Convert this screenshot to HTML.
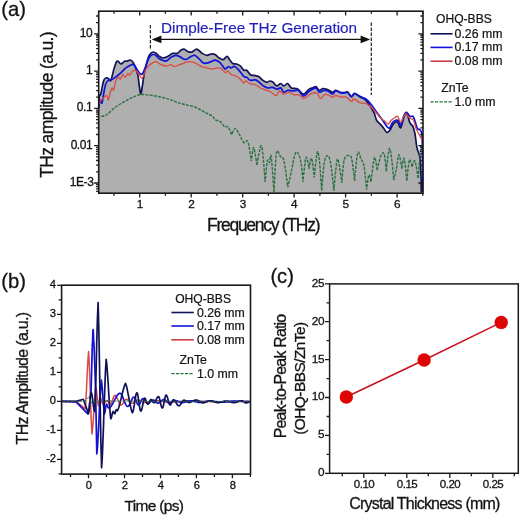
<!DOCTYPE html>
<html lang="en">
<head>
<meta charset="utf-8">
<title>THz generation in OHQ-BBS crystals</title>
<style>
html,body{margin:0;padding:0;background:#fff;}
body{width:520px;height:515px;overflow:hidden;}
svg{display:block;}
svg text{font-family:"Liberation Sans", Arial, sans-serif;fill:#141414;stroke:#141414;stroke-width:.3px;}
svg text.lg{stroke-width:.22px;}
</style>
</head>
<body>
<svg width="520" height="515" viewBox="0 0 520 515">
<rect width="520" height="515" fill="#fff"/>
<g id="panel-a">
<path d="M98.9 103C99 101.8 99.1 97 99.4 95.6C99.7 94.1 100 96.8 100.7 94.3C101.4 91.8 102.8 83.1 103.8 80.4C104.8 77.7 105.7 78.2 106.4 77.9C107.2 77.6 107.6 78.1 108.3 78.5C109 78.9 109.9 82 110.8 80.4C111.7 78.8 113 72.1 113.9 69C114.9 65.9 115.8 63 116.5 61.8C117.2 60.5 117.7 61.1 118.4 61.5C119.1 61.9 119.9 64 120.9 64C122 64 123.7 61.7 124.7 61.2C125.8 60.7 126.2 61.4 127.2 61.2C128.2 61 129.5 59.9 130.4 60C131.3 60.1 132.1 60.9 132.9 62.1C133.7 63.3 134.6 64.9 135.4 67.1C136.2 69.3 137.2 72.1 137.9 75.4C138.6 78.7 138.9 83.7 139.4 86.7C139.9 89.8 140.3 93.5 140.7 93.7C141.1 93.9 141.4 91.3 142 88C142.6 84.7 143.4 78.3 144.2 74.1C145 69.9 146 65.8 146.8 62.7C147.7 59.6 148.2 57 149.3 55.2C150.4 53.4 151.8 52.2 153.1 52C154.4 51.8 155.9 53.2 156.9 53.9C157.9 54.5 157.8 55.2 158.8 55.9C159.9 56.6 161.7 57.9 163.2 58C164.7 58.1 166 57.3 167.6 56.5C169.2 55.7 171.1 53.9 172.7 53.4C174.3 52.9 175.7 53.9 177.1 53.4C178.5 52.9 179.8 50.9 180.9 50.2C182.1 49.5 182.8 49 184 49.2C185.2 49.4 186.5 51 187.8 51.5C189.1 52 190.2 52.5 191.6 52.1C193 51.7 194.8 49.5 196 49.2C197.2 48.9 197.5 49.5 198.6 50.2C199.7 50.9 200.9 52.5 202.3 53.4C203.7 54.2 205.3 55.2 206.8 55.3C208.3 55.4 209.8 54.1 211.2 54C212.6 53.9 213.7 54 215 54.6C216.3 55.2 217.4 56.9 218.8 57.7C220.2 58.5 221.8 59.8 223.2 59.6C224.6 59.4 225.9 56.4 227 56.4C228.1 56.4 228.6 58.4 229.5 59.6C230.4 60.8 231.5 62.7 232.7 63.4C233.9 64.1 235.2 63.6 236.5 64C237.8 64.4 239.1 64.9 240.3 65.9C241.6 67 242.9 69.6 244 70.3C245.1 71 245.5 69.6 246.6 70.3C247.7 71 249.2 73.8 250.4 74.7C251.7 75.6 252.7 75.1 254.1 75.4C255.5 75.7 257.1 75.8 258.6 76.6C260.1 77.4 261.6 79.5 263 80.4C264.4 81.4 265.7 82.2 266.8 82.3C267.9 82.4 268.8 81 269.9 81C270.9 81 271.9 81.5 273.1 82.3C274.3 83.1 275.6 85.8 276.9 86C278.2 86.2 279.5 83.5 280.7 83.5C281.9 83.5 282.6 86 283.8 86C285 86 286.3 83.2 287.6 83.5C288.9 83.8 289.7 87 291.4 87.9C293.1 88.8 295.7 88 297.7 89.1C299.7 90.1 301.5 94.2 303.4 94.2C305.3 94.2 307.5 90.1 309.1 89.1C310.7 88 311.8 88.3 312.9 87.9C314 87.5 314.9 86.2 316 86.6C317.1 87 318 90.1 319.2 90.4C320.4 90.7 321.5 88.6 323 88.5C324.5 88.4 326.4 89.2 328 89.8C329.6 90.4 331.2 92.2 332.5 92.3C333.8 92.4 334.4 90.4 335.6 90.4C336.9 90.4 338.6 91.8 340 92.2C341.4 92.6 342.5 92.7 343.8 92.7C345.1 92.7 346.3 91.5 347.6 92.1C348.9 92.7 350.2 96.3 351.4 96.5C352.6 96.7 353.1 93.3 354.6 93.4C356.1 93.5 358.4 95.9 360.3 97.1C362.2 98.2 364.2 98.7 365.9 100.3C367.6 101.9 369 104.5 370.4 106.6C371.8 108.7 373.1 110.6 374.1 112.9C375.2 115.2 375.6 118.6 376.7 120.5C377.8 122.4 379.3 123 380.5 124.3C381.7 125.6 382.8 127.2 383.9 128.5C384.9 129.8 385.8 132.1 386.8 132.4C387.8 132.7 388.7 131.6 389.7 130.4C390.7 129.2 391.7 126.5 392.6 125.1C393.5 123.7 394.1 122.6 395 122.2C395.9 121.8 397.1 121.7 398 122.7C398.9 123.7 399.6 128.2 400.4 128C401.2 127.8 402.1 123.5 402.8 121.2C403.5 118.9 404.2 115.8 404.8 114.4C405.4 113 405.6 112.5 406.2 113C406.8 113.5 407.5 115.6 408.2 117.3C408.9 119 409.3 121.7 410.1 123.2C410.9 124.8 412.2 124.8 413 126.6C413.8 128.4 414.4 130.8 415 133.8C415.6 136.8 416 141.8 416.4 144.5C416.8 147.2 417 147.8 417.6 150C418.2 152.2 419.4 153.7 419.9 157.4C420.4 161.1 420.5 166.2 420.8 172C421.1 177.8 421.5 189.1 421.6 192.5L422 193.2 L98.7 193.2 Z" fill="#afafaf" stroke="none"/>
<path d="M98.9 103C99 101.8 99.1 97 99.4 95.6C99.7 94.1 100 96.8 100.7 94.3C101.4 91.8 102.8 83.1 103.8 80.4C104.8 77.7 105.7 78.2 106.4 77.9C107.2 77.6 107.6 78.1 108.3 78.5C109 78.9 109.9 82 110.8 80.4C111.7 78.8 113 72.1 113.9 69C114.9 65.9 115.8 63 116.5 61.8C117.2 60.5 117.7 61.1 118.4 61.5C119.1 61.9 119.9 64 120.9 64C122 64 123.7 61.7 124.7 61.2C125.8 60.7 126.2 61.4 127.2 61.2C128.2 61 129.5 59.9 130.4 60C131.3 60.1 132.1 60.9 132.9 62.1C133.7 63.3 134.6 64.9 135.4 67.1C136.2 69.3 137.2 72.1 137.9 75.4C138.6 78.7 138.9 83.7 139.4 86.7C139.9 89.8 140.3 93.5 140.7 93.7C141.1 93.9 141.4 91.3 142 88C142.6 84.7 143.4 78.3 144.2 74.1C145 69.9 146 65.8 146.8 62.7C147.7 59.6 148.2 57 149.3 55.2C150.4 53.4 151.8 52.2 153.1 52C154.4 51.8 155.9 53.2 156.9 53.9C157.9 54.5 157.8 55.2 158.8 55.9C159.9 56.6 161.7 57.9 163.2 58C164.7 58.1 166 57.3 167.6 56.5C169.2 55.7 171.1 53.9 172.7 53.4C174.3 52.9 175.7 53.9 177.1 53.4C178.5 52.9 179.8 50.9 180.9 50.2C182.1 49.5 182.8 49 184 49.2C185.2 49.4 186.5 51 187.8 51.5C189.1 52 190.2 52.5 191.6 52.1C193 51.7 194.8 49.5 196 49.2C197.2 48.9 197.5 49.5 198.6 50.2C199.7 50.9 200.9 52.5 202.3 53.4C203.7 54.2 205.3 55.2 206.8 55.3C208.3 55.4 209.8 54.1 211.2 54C212.6 53.9 213.7 54 215 54.6C216.3 55.2 217.4 56.9 218.8 57.7C220.2 58.5 221.8 59.8 223.2 59.6C224.6 59.4 225.9 56.4 227 56.4C228.1 56.4 228.6 58.4 229.5 59.6C230.4 60.8 231.5 62.7 232.7 63.4C233.9 64.1 235.2 63.6 236.5 64C237.8 64.4 239.1 64.9 240.3 65.9C241.6 67 242.9 69.6 244 70.3C245.1 71 245.5 69.6 246.6 70.3C247.7 71 249.2 73.8 250.4 74.7C251.7 75.6 252.7 75.1 254.1 75.4C255.5 75.7 257.1 75.8 258.6 76.6C260.1 77.4 261.6 79.5 263 80.4C264.4 81.4 265.7 82.2 266.8 82.3C267.9 82.4 268.8 81 269.9 81C270.9 81 271.9 81.5 273.1 82.3C274.3 83.1 275.6 85.8 276.9 86C278.2 86.2 279.5 83.5 280.7 83.5C281.9 83.5 282.6 86 283.8 86C285 86 286.3 83.2 287.6 83.5C288.9 83.8 289.7 87 291.4 87.9C293.1 88.8 295.7 88 297.7 89.1C299.7 90.1 301.5 94.2 303.4 94.2C305.3 94.2 307.5 90.1 309.1 89.1C310.7 88 311.8 88.3 312.9 87.9C314 87.5 314.9 86.2 316 86.6C317.1 87 318 90.1 319.2 90.4C320.4 90.7 321.5 88.6 323 88.5C324.5 88.4 326.4 89.2 328 89.8C329.6 90.4 331.2 92.2 332.5 92.3C333.8 92.4 334.4 90.4 335.6 90.4C336.9 90.4 338.6 91.8 340 92.2C341.4 92.6 342.5 92.7 343.8 92.7C345.1 92.7 346.3 91.5 347.6 92.1C348.9 92.7 350.2 96.3 351.4 96.5C352.6 96.7 353.1 93.3 354.6 93.4C356.1 93.5 358.4 95.9 360.3 97.1C362.2 98.2 364.2 98.7 365.9 100.3C367.6 101.9 369 104.5 370.4 106.6C371.8 108.7 373.1 110.6 374.1 112.9C375.2 115.2 375.6 118.6 376.7 120.5C377.8 122.4 379.3 123 380.5 124.3C381.7 125.6 382.8 127.2 383.9 128.5C384.9 129.8 385.8 132.1 386.8 132.4C387.8 132.7 388.7 131.6 389.7 130.4C390.7 129.2 391.7 126.5 392.6 125.1C393.5 123.7 394.1 122.6 395 122.2C395.9 121.8 397.1 121.7 398 122.7C398.9 123.7 399.6 128.2 400.4 128C401.2 127.8 402.1 123.5 402.8 121.2C403.5 118.9 404.2 115.8 404.8 114.4C405.4 113 405.6 112.5 406.2 113C406.8 113.5 407.5 115.6 408.2 117.3C408.9 119 409.3 121.7 410.1 123.2C410.9 124.8 412.2 124.8 413 126.6C413.8 128.4 414.4 130.8 415 133.8C415.6 136.8 416 141.8 416.4 144.5C416.8 147.2 417 147.8 417.6 150C418.2 152.2 419.4 153.7 419.9 157.4C420.4 161.1 420.5 166.2 420.8 172C421.1 177.8 421.5 189.1 421.6 192.5" fill="none" stroke="#111158" stroke-width="1.7" stroke-linejoin="round"/>
<path d="M98.9 108C99 106.8 99.3 102.2 99.6 101C99.9 99.8 100.2 100.2 100.6 100.5C101 100.8 101.5 104.2 102 103C102.5 101.8 103.2 96.1 103.8 93C104.4 89.9 105 86.3 105.7 84.2C106.5 82.1 107.1 81.2 108.3 80.4C109.5 79.6 111.1 79.9 112.7 79.1C114.3 78.3 116.3 76.5 117.7 75.5C119.1 74.5 119.6 74 120.9 72.8C122.2 71.6 123.7 69.7 125.3 68.4C126.9 67.2 129 65.9 130.4 65.3C131.8 64.7 132.4 64 133.5 64.6C134.6 65.2 135.6 67.5 136.7 69C137.8 70.5 138.9 72.7 139.8 73.5C140.7 74.3 141.5 74.9 142.3 74.1C143.2 73.2 144.1 70.5 144.9 68.4C145.8 66.3 146.5 63.6 147.4 61.5C148.3 59.4 149.6 57 150.6 55.8C151.6 54.6 152.6 54.4 153.7 54.5C154.8 54.6 156.1 55.8 156.9 56.4C157.8 57 157.9 57.8 158.8 58.4C159.8 59 161.3 59.9 162.6 60.3C163.9 60.7 164.9 61.4 166.4 60.9C167.9 60.4 169.8 58 171.4 57.1C173 56.2 174.4 55.4 175.8 55.3C177.2 55.2 178.3 55.9 179.6 56.5C180.9 57.1 182.2 58.5 183.4 59C184.6 59.5 185.3 59.7 186.6 59.3C187.8 58.9 189.5 57.2 190.9 56.5C192.3 55.8 193.5 55 194.8 55.3C196.1 55.6 197.2 57.1 198.6 58.4C200 59.6 201.6 62 203 62.8C204.4 63.6 205.4 63.3 206.8 63.1C208.2 62.9 209.8 62.1 211.2 61.6C212.6 61.1 213.5 60 215 60.2C216.5 60.4 218.3 61.2 220 62.7C221.7 64.2 223.7 68.4 225.1 69C226.5 69.6 227.4 66.7 228.3 66.5C229.2 66.3 229.8 67.8 230.8 67.8C231.9 67.8 233.2 66.1 234.6 66.5C236 66.9 237.4 68.6 239 70.3C240.6 72 242.7 75.4 244 76.6C245.3 77.8 245.5 76.6 246.6 77.2C247.7 77.8 248.9 80 250.4 80.4C251.9 80.8 253.9 79.5 255.4 79.8C256.9 80.1 257.8 81.2 259.2 82.3C260.6 83.3 262.1 85.1 263.6 86.1C265.1 87 266.5 87.8 268 88C269.5 88.2 271 87.1 272.5 87.3C274 87.5 275.5 89.1 276.9 89.2C278.3 89.3 279.5 87.4 280.7 87.9C281.9 88.4 282.6 91.9 283.8 92.3C285 92.7 286.1 90.6 287.6 90.4C289.1 90.2 290.9 91 292.7 91C294.5 91 296.6 89.6 298.4 90.4C300.2 91.2 301.7 95.9 303.4 96.1C305.1 96.3 306.9 92.9 308.5 91.7C310.1 90.5 311.6 89.7 312.9 89.1C314.1 88.5 314.9 87.4 316 87.9C317.1 88.4 318.5 91.9 319.8 92.3C321.1 92.7 322.2 90.6 323.6 90.4C325 90.2 326.5 90.4 328 91C329.5 91.6 331.2 94.2 332.5 94.2C333.8 94.2 334.4 91.3 335.6 91C336.9 90.7 338.6 92.2 340 92.6C341.4 93 342.5 93.2 343.8 93.2C345.1 93.2 346.3 92 347.6 92.6C348.9 93.2 350.2 96.7 351.4 96.9C352.6 97.1 353.1 93.6 354.6 93.6C356.1 93.5 358.4 95.7 360.3 96.6C362.2 97.5 364.2 97.8 365.9 99C367.6 100.2 368.8 101.6 370.4 103.5C372 105.4 373.8 108.2 375.4 110.4C377 112.6 378.6 114.8 380 116.8C381.4 118.8 382.7 120.5 383.9 122.2C385.1 123.9 386.3 126 387.3 127C388.3 128 388.8 128.8 389.7 128C390.6 127.2 391.6 123.5 392.6 122.2C393.7 120.9 395 120.5 396 120.2C397 120 397.6 119.9 398.4 120.7C399.2 121.5 400.1 125.7 400.9 125.1C401.7 124.5 402.5 119.4 403.3 117.3C404.1 115.2 405 113.2 405.7 112.5C406.4 111.8 407 112.8 407.7 113.4C408.4 114.1 409.2 115.9 410.1 116.4C411 116.9 412.2 115.6 413 116.4C413.8 117.2 414.3 119.2 415 121.2C415.7 123.2 416.5 127 417.4 128.5C418.3 130 419.5 128.8 420.3 130C421.1 131.2 421.6 130.8 422 135.8C422.4 140.8 422.4 150.6 422.5 160C422.6 169.4 422.5 187.1 422.5 192.5" fill="none" stroke="#1212d8" stroke-width="1.7" stroke-linejoin="round"/>
<path d="M98.9 104C99.1 103.6 98.8 102.9 100 101.5C101.2 100.1 105 95.8 106.4 95.6C107.8 95.3 107.7 100.4 108.3 100C108.9 99.6 109.6 95 110.2 93C110.8 91 111.4 88.5 112 88C112.6 87.5 113.1 91.2 113.7 89.9C114.3 88.6 115 82.5 115.8 80.4C116.6 78.3 117.7 77.4 118.4 77.2C119.2 77 119.6 79.5 120.3 79.1C121 78.7 122 75 122.8 74.7C123.6 74.4 124.5 77.4 125.3 77.2C126.1 77 127.1 73.8 127.8 73.5C128.5 73.2 129 75.7 129.7 75.4C130.4 75.1 131.2 72.4 132.2 71.6C133.1 70.8 134.3 70 135.4 70.3C136.5 70.6 137.6 72.1 138.6 73.5C139.6 74.9 140.9 78.2 141.7 78.5C142.5 78.8 142.9 77 143.6 75.4C144.3 73.8 145.1 70.7 146.1 69C147.1 67.3 148.1 66.3 149.3 65.3C150.5 64.2 151.9 63.3 153.1 62.7C154.2 62.1 155 61.3 156.2 61.5C157.3 61.7 158.3 63.3 160 64.1C161.7 64.8 164.6 65.9 166.4 66C168.2 66.1 169.4 64.6 170.8 64.7C172.2 64.8 173.1 66.6 174.6 66.6C176.1 66.6 177.9 65.3 179.6 64.7C181.3 64.1 183.1 63.3 184.7 62.8C186.3 62.3 187.7 61.7 189.1 61.6C190.5 61.5 191.5 61.8 192.9 62.2C194.3 62.6 195.8 63.4 197.3 64.1C198.8 64.8 200.1 66 201.7 66.6C203.3 67.2 205.1 67.5 206.8 67.9C208.5 68.3 210.1 69.1 211.8 69.1C213.5 69.1 215.4 68 216.9 67.9C218.4 67.8 219.2 67.6 220.7 68.4C222.2 69.2 224.5 72.4 225.7 72.8C226.8 73.2 226.6 70.6 227.6 70.9C228.6 71.2 230 73.9 231.4 74.7C232.8 75.5 234.3 75.3 235.8 76C237.3 76.7 239 77.9 240.3 79.1C241.6 80.2 242.5 82.6 243.4 82.9C244.3 83.2 244.9 80.9 245.9 81C246.9 81.1 248.1 83 249.7 83.6C251.3 84.2 253.6 84.1 255.4 84.8C257.2 85.5 258.8 87.2 260.5 88C262.2 88.8 263.8 89.3 265.5 89.9C267.2 90.5 268.8 90.8 270.6 91.8C272.4 92.8 274.7 95.7 276.2 95.6C277.7 95.5 278.1 91.2 279.4 91C280.7 90.8 282.2 94 283.8 94.2C285.4 94.4 287.2 92.2 288.9 92.3C290.6 92.4 292.2 94.4 293.9 94.8C295.6 95.2 297.4 94.2 299 94.8C300.6 95.4 301.8 98.5 303.4 98.6C305 98.7 306.9 96.5 308.5 95.5C310.1 94.5 311.4 93.2 312.9 92.9C314.4 92.6 316 92.6 317.3 93.6C318.6 94.5 319.4 98.4 320.5 98.6C321.6 98.8 322.9 95.4 324.2 94.8C325.4 94.2 326.6 94.4 328 94.8C329.4 95.2 331.2 97.2 332.5 97.3C333.8 97.4 334.1 95.5 335.6 95.5C337.1 95.5 339.5 96.8 341.3 97.1C343.1 97.4 344.7 96.3 346.4 97.1C348.1 97.8 350.1 101.3 351.4 101.6C352.6 101.9 352.4 98.8 353.9 99C355.4 99.2 358.3 102 360.3 102.8C362.3 103.5 364.2 102.9 365.9 103.5C367.6 104.1 368.8 105.2 370.4 106.6C372 108 373.7 109.8 375.4 111.7C377.1 113.6 378.9 116.4 380.5 118C382.1 119.6 383.6 120.2 384.9 121.2C386.2 122.2 387.2 124.3 388.3 124.1C389.4 123.9 390.1 121.2 391.2 120.2C392.2 119.2 393.6 118.4 394.6 117.8C395.7 117.2 396.4 115.6 397.5 116.4C398.6 117.2 399.9 122.6 400.9 122.7C401.9 122.8 402.5 118.8 403.3 117.3C404.1 115.8 404.9 113.5 405.7 113.4C406.5 113.3 407.3 115.9 408.2 116.8C409.1 117.7 410.2 118.2 411.1 118.8C412 119.4 412.7 118.7 413.5 120.2C414.3 121.7 415 125.7 415.9 128C416.8 130.3 417.7 131.7 418.8 133.8C419.9 135.9 421.8 139.5 422.4 140.6" fill="none" stroke="#dc4a42" stroke-width="1.3" stroke-linejoin="round"/>
<path d="M101.3 116.3C102.1 116.1 104 116.5 106.3 115C108.6 113.5 111.9 109.8 115 107.5C118.1 105.2 121.7 103.2 125 101.3C128.3 99.4 132.1 97.4 135 96.3C137.9 95.2 139.6 94.6 142.5 94.5C145.4 94.4 149.2 95 152.5 95.5C155.8 96 159.6 96.8 162.5 97.5C165.4 98.2 167.5 98.7 170 99.5C172.5 100.3 175 101.7 177.5 102.5C180 103.3 182.1 103.8 185 104.5C187.9 105.2 191.7 105.7 195 107C198.3 108.3 202.1 111 205 112.5C207.9 114 210.8 115.1 212.5 116.3C214.2 117.5 213.7 118.9 215 119.8C216.3 120.7 218.6 120.4 220.2 121.6C221.8 122.8 223.3 125.9 224.6 126.8C225.9 127.7 226.9 125.5 228.1 126.8C229.3 128.1 231.6 134.7 231.6 134.7C231.6 134.7 233.8 128.6 235.1 128.6C236.4 128.6 238.1 132.4 239.5 134.7C240.9 137 242.5 141.6 243.8 142.6C245.1 143.6 246.4 140.1 247.3 140.8C248.2 141.5 248.4 143.6 249.1 146.9C249.8 150.2 251.3 160.9 251.3 160.9C251.3 160.9 252.9 147.1 253.8 147.8C254.7 148.5 256.9 165.3 256.9 165.3C256.9 165.3 259.8 147.6 260.8 146C261.8 144.4 262.3 149.7 263 155.7C263.7 161.7 265.1 181.9 265.1 181.9C265.1 181.9 266.7 164.1 267.4 160.9C268.1 157.7 268.9 163.3 269.5 162.6C270.1 161.9 270.4 151.6 271.2 156.5C271.9 161.4 274 192.3 274 192.3C274 192.3 275.4 159 276.5 153C277.6 147 279.2 155.2 280.5 156.5C281.8 157.8 282.8 155.8 284 160.9C285.2 166 287.8 187.1 287.8 187.1C287.8 187.1 290.4 175.7 291.5 170.5C292.6 165.3 293.7 158.8 294.6 155.7C295.6 152.6 296.2 151.3 297.2 152.2C298.2 153.1 299.7 155.9 300.7 160.9C301.7 165.9 303 181.9 303 181.9C303 181.9 305 159.6 306 157.4C307 155.2 309.1 168.8 309.1 168.8C309.1 168.8 310.8 156.9 311.6 158.3C312.5 159.8 314.2 177.5 314.2 177.5C314.2 177.5 316.4 154.7 317.3 152.2C318.2 149.7 318.9 156.2 319.6 162.6C320.3 169 321.7 190.6 321.7 190.6C321.7 190.6 323.3 168.4 324.3 162.6C325.3 156.8 326.7 155.4 327.8 155.7C328.9 156 329.8 158.6 330.8 164.4C331.8 170.2 333.9 190.6 333.9 190.6C333.9 190.6 336 165.3 336.9 160.9C337.8 156.5 338.3 160.8 339.1 164.4C339.9 168 341.8 182.7 341.8 182.7C341.8 182.7 343.1 163.6 344.4 159.1C345.7 154.6 348.3 155.5 349.6 155.7C350.9 155.9 351.2 156.3 352 160.5C352.8 164.7 354.6 181 354.6 181C354.6 181 356.6 156.6 357.7 153C358.8 149.4 360.1 157.3 361.2 159.5C362.2 161.7 363.1 161.1 364 166.1C364.9 171.1 366.6 189.7 366.6 189.7C366.6 189.7 368.2 176.2 368.9 174.9C369.6 173.6 371 181.9 371 181.9C371 181.9 373.5 159.3 374.5 157.4C375.5 155.5 377.1 170.5 377.1 170.5C377.1 170.5 379.4 159.3 380.6 156.5C381.8 153.7 383.2 151.4 384.1 153.9C385.1 156.4 386.3 171.4 386.3 171.4C386.3 171.4 388.4 150.4 389.3 148.7C390.2 146.9 391.2 155.7 391.9 160.9C392.6 166.1 393.7 180.1 393.7 180.1C393.7 180.1 395.4 173.8 396.3 169.6C397.2 165.4 398 154.9 398.9 154.8C399.8 154.7 401.9 168.8 401.9 168.8C401.9 168.8 403.3 156.3 404.1 158.3C404.9 160.3 406.8 181 406.8 181C406.8 181 408.5 162.3 409.4 160C410.3 157.7 412 167 412 167C412 167 414 159 415 160.9C416 162.8 418.1 178.4 418.1 178.4C418.1 178.4 419.5 162.9 419.9 157.4C420.3 151.9 420.6 147.2 420.7 145.2" fill="none" stroke="#2a7040" stroke-width="1.4" stroke-dasharray="3 1.2" />
<rect x="98.7" y="11.2" width="324.3" height="182" fill="none" stroke="#1a1a1a" stroke-width="1.6"/>
<path d="M114 193.2v2.6M114 11.2v2.6M139.7 193.2v4.4M139.7 11.2v4.4M165.4 193.2v2.6M165.4 11.2v2.6M191.2 193.2v4.4M191.2 11.2v4.4M216.9 193.2v2.6M216.9 11.2v2.6M242.7 193.2v4.4M242.7 11.2v4.4M268.4 193.2v2.6M268.4 11.2v2.6M294.1 193.2v4.4M294.1 11.2v4.4M319.9 193.2v2.6M319.9 11.2v2.6M345.6 193.2v4.4M345.6 11.2v4.4M371.4 193.2v2.6M371.4 11.2v2.6M397.1 193.2v4.4M397.1 11.2v4.4M422.8 193.2v2.6M422.8 11.2v2.6M98.7 191.3h-2.6M423 191.3h-2.6M98.7 188.8h-2.6M423 188.8h-2.6M98.7 186.6h-2.6M423 186.6h-2.6M98.7 184.7h-2.6M423 184.7h-2.6M98.7 183h-4.6M423 183h-4.6M98.7 171.8h-2.6M423 171.8h-2.6M98.7 165.2h-2.6M423 165.2h-2.6M98.7 160.5h-2.6M423 160.5h-2.6M98.7 156.9h-2.6M423 156.9h-2.6M98.7 154h-2.6M423 154h-2.6M98.7 151.5h-2.6M423 151.5h-2.6M98.7 149.3h-2.6M423 149.3h-2.6M98.7 147.4h-2.6M423 147.4h-2.6M98.7 145.7h-4.6M423 145.7h-4.6M98.7 134.5h-2.6M423 134.5h-2.6M98.7 127.9h-2.6M423 127.9h-2.6M98.7 123.2h-2.6M423 123.2h-2.6M98.7 119.6h-2.6M423 119.6h-2.6M98.7 116.7h-2.6M423 116.7h-2.6M98.7 114.2h-2.6M423 114.2h-2.6M98.7 112h-2.6M423 112h-2.6M98.7 110.1h-2.6M423 110.1h-2.6M98.7 108.4h-4.6M423 108.4h-4.6M98.7 97.2h-2.6M423 97.2h-2.6M98.7 90.6h-2.6M423 90.6h-2.6M98.7 85.9h-2.6M423 85.9h-2.6M98.7 82.3h-2.6M423 82.3h-2.6M98.7 79.4h-2.6M423 79.4h-2.6M98.7 76.9h-2.6M423 76.9h-2.6M98.7 74.7h-2.6M423 74.7h-2.6M98.7 72.8h-2.6M423 72.8h-2.6M98.7 71.1h-4.6M423 71.1h-4.6M98.7 59.9h-2.6M423 59.9h-2.6M98.7 53.3h-2.6M423 53.3h-2.6M98.7 48.6h-2.6M423 48.6h-2.6M98.7 45h-2.6M423 45h-2.6M98.7 42.1h-2.6M423 42.1h-2.6M98.7 39.6h-2.6M423 39.6h-2.6M98.7 37.4h-2.6M423 37.4h-2.6M98.7 35.5h-2.6M423 35.5h-2.6M98.7 33.8h-4.6M423 33.8h-4.6M98.7 22.6h-2.6M423 22.6h-2.6M98.7 16h-2.6M423 16h-2.6" fill="none" stroke="#1a1a1a" stroke-width="1.3"/>
<text x="92.2" y="36.7" font-size="12" text-anchor="end" letter-spacing="-0.45">10</text>
<text x="92.2" y="74" font-size="12" text-anchor="end" letter-spacing="-0.45">1</text>
<text x="92.2" y="111.3" font-size="12" text-anchor="end" letter-spacing="-0.45">0.1</text>
<text x="92.2" y="148.6" font-size="12" text-anchor="end" letter-spacing="-0.45">0.01</text>
<text x="93.4" y="185.9" font-size="12" text-anchor="end" letter-spacing="-0.45">1E-3</text>
<text x="140" y="208" font-size="11.8" text-anchor="middle">1</text>
<text x="191.5" y="208" font-size="11.8" text-anchor="middle">2</text>
<text x="243" y="208" font-size="11.8" text-anchor="middle">3</text>
<text x="294.4" y="208" font-size="11.8" text-anchor="middle">4</text>
<text x="345.9" y="208" font-size="11.8" text-anchor="middle">5</text>
<text x="397.4" y="208" font-size="11.8" text-anchor="middle">6</text>
<text x="207" y="231.3" font-size="17.5" textLength="113.5">Frequency (THz)</text>
<text transform="translate(52.6 177.8) rotate(-90)" font-size="17.5" textLength="146.5">THz amplitude (a.u.)</text>
<text x="1.2" y="15.7" font-size="20.2">(a)</text>
<text x="161" y="33" font-size="15.3" style="fill:#2020bc;stroke:#2020bc;stroke-width:.15px">Dimple-Free THz Generation</text>
<path d="M150.4 25V48.5M371.3 22.5V95" fill="none" stroke="#222" stroke-width="1.2" stroke-dasharray="3.4 1.6"/>
<path d="M160 39.4H362" fill="none" stroke="#111" stroke-width="1.4"/>
<path d="M151.8 39.4L161.4 35.5V43.3ZM370.2 39.4L360.6 35.5V43.3Z" fill="#111"/>
<text x="436" y="22.9" font-size="12.1" class="lg">OHQ-BBS</text>
<path d="M430.5 33.8H452.6" stroke="#111158" stroke-width="1.6"/>
<text x="454.6" y="37.5" font-size="12.3" class="lg">0.26 mm</text>
<path d="M430.5 47.4H452.6" stroke="#1212d8" stroke-width="1.6"/>
<text x="454.6" y="51.1" font-size="12.3" class="lg">0.17 mm</text>
<path d="M430.5 61.2H452.6" stroke="#c83c44" stroke-width="1.6"/>
<text x="454.6" y="64.9" font-size="12.3" class="lg">0.08 mm</text>
<text x="441.2" y="91.6" font-size="12.3" class="lg">ZnTe</text>
<path d="M430.5 101.9H452.6" stroke="#2a7040" stroke-width="1.2" stroke-dasharray="3.2 1.3"/>
<text x="454.6" y="105.5" font-size="12.3" class="lg">1.0 mm</text>
</g>
<g id="panel-b">
<path d="M62 401.4L76.5 401.6L85.2 408.9L85.9 400.1L86.6 387.3L87.2 373.1L87.9 360.3L88.6 351.5L89.3 364.1L90 382.5L90.6 403L91.3 421.4L92 434L92.6 428.3L93.3 420.2L93.9 410.8L94.5 401.3L95.2 393.2L95.8 387.5L96.5 390.2L97.2 396.8L97.9 403.3L98.6 406L99.1 403.8L99.5 399.2L100 397L100.8 398L101.5 400.5L102.2 403L103 404L103.7 403.8L104.3 403.1L105 402.2L105.7 401.4L106.3 400.7L107 400.5L107.8 401.1L108.5 402.5L109.2 403.9L110 404.5L110.6 404.1L111.2 403.2L111.9 401.7L112.5 399.9L113.1 398.1L113.8 396.6L114.4 395.7L115 395.3L115.7 395.6L116.3 396.4L117 397.7L117.7 399.3L118.3 401L119 402.6L119.7 403.9L120.3 404.7L121 405L121.7 404.8L122.4 404.2L123.1 403.2L123.8 402.2L124.4 401.1L125.1 400.1L125.8 399.5L126.5 399.3L127.2 399.5L127.9 399.9L128.6 400.5L129.2 401.3L129.9 402.1L130.6 402.7L131.3 403.1L132 403.3L132.7 403.2L133.3 402.9L134 402.5L134.7 401.9L135.3 401.4L136 400.8L136.7 400.4L137.3 400.1L138 400L138.6 400.1L139.3 400.2L139.9 400.4L140.5 400.8L141.2 401.1L141.8 401.5L142.5 401.8L143.1 402.2L143.7 402.4L144.4 402.5L145 402.6L145.6 402.6L146.2 402.5L146.9 402.4L147.5 402.3L148.1 402.2L148.8 402L149.4 401.8L150 401.6L150.6 401.4L151.2 401.2L151.9 401L152.5 400.9L153.1 400.8L153.8 400.7L154.4 400.6L155 400.6L155.6 400.6L156.2 400.6L156.9 400.7L157.5 400.7L158.1 400.8L158.8 400.8L159.4 400.9L160 401L160.6 401.1L161.2 401.2L161.9 401.3L162.5 401.4L163.1 401.5L163.8 401.6L164.4 401.7L165 401.8L165.6 401.9L166.2 402L166.9 402L167.5 402.1L168.1 402.1L168.8 402.2L169.4 402.2L170 402.2L170.6 402.2L171.2 402.2L171.9 402.2L172.5 402.2L173.1 402.1L173.8 402.1L174.4 402.1L175 402L175.6 402L176.2 401.9L176.9 401.9L177.5 401.8L178.1 401.8L178.8 401.7L179.4 401.7L180 401.6L180.6 401.5L181.2 401.5L181.9 401.4L182.5 401.4L183.1 401.3L183.8 401.3L184.4 401.2L185 401.2L185.6 401.1L186.2 401.1L186.9 401.1L187.5 401L188.1 401L188.8 401L189.4 401L190 401L190.6 401L191.2 401L191.9 401L192.5 401L193.1 401L193.8 401L194.4 401L195 401.1L195.6 401.1L196.2 401.1L196.9 401.1L197.5 401.1L198.1 401.2L198.8 401.2L199.4 401.2L200 401.2L200.6 401.3L201.2 401.3L201.9 401.3L202.5 401.3L203.1 401.4L203.8 401.4L204.4 401.4L205 401.4L205.6 401.5L206.2 401.5L206.9 401.5L207.5 401.6L208.1 401.6L208.8 401.6L209.4 401.6L210 401.7L210.6 401.7L211.2 401.7L211.9 401.7L212.5 401.8L213.1 401.8L213.8 401.8L214.4 401.8L215 401.8L215.6 401.9L216.2 401.9L216.9 401.9L217.5 401.9L218.1 401.9L218.8 401.9L219.4 401.9L220 401.9L220.6 401.9L221.3 401.9L221.9 401.9L222.5 401.9L223.2 401.9L223.8 401.9L224.4 401.9L225.1 401.9L225.7 401.8L226.4 401.8L227 401.8L227.6 401.8L228.3 401.8L228.9 401.8L229.5 401.8L230.2 401.8L230.8 401.7L231.4 401.7L232.1 401.7L232.7 401.7L233.3 401.7L234 401.6L234.6 401.6L235.2 401.6L235.9 401.6L236.5 401.6L237.2 401.5L237.8 401.5L238.4 401.5L239.1 401.5L239.7 401.5L240.3 401.4L241 401.4L241.6 401.4L242.2 401.4L242.9 401.4L243.5 401.4L244.1 401.4L244.8 401.4L245.4 401.3L246.1 401.3L246.7 401.3L247.3 401.3L248 401.3L248.6 401.3L249.2 401.3L249.9 401.3L250.5 401.3" fill="none" stroke="#dc4a42" stroke-width="1.5" stroke-linejoin="round"/>
<path d="M62 401.4L76 401.8L87.8 413.8L89.2 407.4L91.1 390L92.3 345L92.6 341.2L92.8 333.5L93.1 329.6L93.4 333.4L93.7 341.1L94 345L95.5 385L96.8 454L97.5 446.6L98.1 436.2L98.8 423.7L99.4 410.5L100.1 398L100.7 387.6L101.4 380.2L102.2 387.1L102.9 397.1L103.7 407.1L104.4 414L105.1 411.5L105.8 406.5L106.5 404L107.2 405L107.8 407L108.5 408L109.1 407.9L109.8 407.6L110.4 407L111.1 406.3L111.7 405.4L112.3 404.3L113 403.2L113.6 401.9L114.2 400.7L114.9 399.4L115.5 398.1L116.2 397L116.8 395.9L117.4 395L118.1 394.3L118.7 393.7L119.4 393.4L120 393.3L120.6 393.5L121.3 394.2L121.9 395.2L122.6 396.6L123.2 398.2L123.8 399.9L124.5 401.6L125.1 403.2L125.8 404.6L126.4 405.6L127.1 406.3L127.7 406.5L128.3 406.3L129 405.6L129.6 404.5L130.2 403.2L130.8 401.8L131.5 400.3L132.1 399L132.7 397.9L133.4 397.2L134 397L134.6 397.4L135.3 398.5L135.9 400.1L136.6 401.9L137.2 403.5L137.9 404.6L138.5 405L139.1 404.7L139.8 403.8L140.4 402.5L141.1 401L141.7 399.7L142.4 398.8L143 398.5L143.6 398.7L144.2 399.2L144.9 400L145.5 401L146.1 402L146.8 402.8L147.4 403.3L148 403.5L148.6 403.4L149.2 403L149.9 402.4L150.5 401.8L151.1 401.1L151.8 400.5L152.4 400.1L153 400L153.6 400.1L154.2 400.5L154.9 401L155.5 401.6L156.1 402.2L156.8 402.7L157.4 403.1L158 403.2L158.7 403.1L159.3 402.8L160 402.3L160.7 401.7L161.3 401L162 400.4L162.7 399.9L163.3 399.6L164 399.5L164.6 399.6L165.2 400L165.9 400.6L166.5 401.2L167.1 401.9L167.8 402.5L168.4 402.9L169 403L169.7 402.9L170.3 402.7L171 402.4L171.7 402L172.3 401.5L173 401.1L173.7 400.8L174.3 400.6L175 400.5L175.6 400.5L176.3 400.7L176.9 400.9L177.5 401.1L178.2 401.4L178.8 401.7L179.5 402L180.1 402.2L180.7 402.4L181.4 402.6L182 402.6L182.7 402.6L183.3 402.5L184 402.3L184.7 402.2L185.3 401.9L186 401.7L186.7 401.5L187.3 401.2L188 401.1L188.7 400.9L189.3 400.8L190 400.8L190.6 400.8L191.2 400.9L191.9 400.9L192.5 401L193.1 401.2L193.8 401.3L194.4 401.4L195 401.6L195.6 401.8L196.2 401.9L196.9 402L197.5 402.2L198.1 402.3L198.8 402.3L199.4 402.4L200 402.4L200.6 402.4L201.2 402.3L201.9 402.3L202.5 402.2L203.1 402.1L203.8 402L204.4 401.8L205 401.7L205.6 401.6L206.2 401.4L206.9 401.3L207.5 401.2L208.1 401.1L208.8 401.1L209.4 401L210 401L210.6 401L211.3 401L211.9 401.1L212.5 401.1L213.2 401.2L213.8 401.3L214.4 401.4L215.1 401.5L215.7 401.6L216.3 401.6L216.9 401.7L217.6 401.8L218.2 401.9L218.8 402L219.5 402.1L220.1 402.1L220.7 402.2L221.4 402.2L222 402.2L222.7 402.2L223.3 402.2L223.9 402.1L224.6 402.1L225.2 402L225.9 402L226.6 401.9L227.2 401.8L227.8 401.7L228.5 401.6L229.2 401.5L229.8 401.4L230.4 401.3L231.1 401.2L231.8 401.2L232.4 401.1L233.1 401.1L233.7 401L234.3 401L235 401L235.6 401L236.3 401L236.9 401L237.6 401.1L238.2 401.1L238.9 401.1L239.5 401.2L240.2 401.2L240.8 401.2L241.5 401.3L242.1 401.3L242.8 401.4L243.4 401.5L244 401.5L244.7 401.6L245.3 401.6L246 401.6L246.6 401.7L247.3 401.7L247.9 401.7L248.6 401.8L249.2 401.8L249.9 401.8L250.5 401.8" fill="none" stroke="#1212d8" stroke-width="1.7" stroke-linejoin="round"/>
<path d="M62 401.4L76 401.4L83.3 399.3L88.5 413.6L89.2 410.5L89.8 403L90.5 395.5L91.2 392.4L91.9 394.2L92.6 399L93.3 404.8L94 409.6L94.7 411.4L95.4 394.8L96.1 370.5L96.7 343.5L97.4 319.2L98.1 302.6L98.8 327.9L99.5 364.6L100.2 405.8L100.9 442.5L101.6 467.8L102.3 456.9L102.9 441.6L103.6 423.3L104.2 403.9L104.9 385.6L105.5 370.3L106.2 359.4L106.9 365.4L107.5 373.8L108.2 383.8L108.8 394.4L109.5 404.4L110.1 412.8L110.8 418.8L111.6 417L112.3 413.3L113.1 411.5L113.6 412.1L114.1 413.2L114.6 413.8L115.2 412.8L115.7 410.7L116.3 409.6L116.7 409.9L117 410.5L117.4 410.8L118.1 409.3L118.8 407.5L119.4 405.2L120.1 402.7L120.8 399.9L121.5 397.1L122.1 394.2L122.8 391.4L123.5 388.9L124.2 386.6L124.8 384.8L125.5 383.3L126.2 385.2L126.9 387.8L127.5 390.9L128.2 394.3L128.9 398L129.6 401.7L130.3 405.1L130.9 408.2L131.6 410.8L132.3 412.7L133 411.7L133.6 408.9L134.3 404.9L134.9 400.5L135.6 396.5L136.2 393.7L136.9 392.7L137.6 393.9L138.2 397.3L138.9 401.9L139.5 406.6L140.2 410L140.8 411.2L141.5 410.3L142.1 407.9L142.8 404.7L143.5 401.4L144.1 399L144.8 398.1L145.5 399L146.2 401.1L147 403.3L147.7 404.2L148.4 403.8L149 402.6L149.7 401.1L150.3 399.9L151 399.5L151.8 400L152.5 401.1L153.2 402.3L154 402.8L154.6 402.5L155.3 401.6L155.9 400.4L156.6 398.9L157.2 397.7L157.9 396.8L158.5 396.5L159.1 397.3L159.8 399.4L160.4 402.3L161 405.2L161.7 407.3L162.3 408.1L163 407.2L163.6 404.8L164.2 401.6L164.9 398.3L165.5 395.9L166.2 395L166.8 395.7L167.5 397.5L168.1 400L168.7 402.5L169.4 404.3L170 405L170.7 404.5L171.4 403.2L172.1 401.6L172.8 400.3L173.5 399.8L174.2 400L174.8 400.7L175.5 401.7L176.2 402.8L176.8 403.9L177.5 404.9L178.1 405.6L178.8 405.8L179.5 405.6L180.1 405L180.8 404.1L181.4 403L182.1 401.9L182.7 401L183.3 400.4L184 400.2L184.6 400.3L185.2 400.5L185.9 400.9L186.5 401.3L187.1 401.8L187.8 402.2L188.4 402.4L189 402.5L189.6 402.4L190.3 402.3L190.9 402.1L191.5 401.8L192.2 401.4L192.8 401.1L193.5 400.7L194.1 400.4L194.7 400.2L195.4 400.1L196 400L196.6 400.1L197.3 400.2L197.9 400.5L198.5 400.8L199.2 401.2L199.8 401.6L200.5 402L201.1 402.3L201.7 402.6L202.4 402.7L203 402.8L203.6 402.8L204.3 402.6L204.9 402.5L205.5 402.2L206.2 401.9L206.8 401.7L207.5 401.4L208.1 401.1L208.7 401L209.4 400.8L210 400.8L210.7 400.8L211.3 400.9L212 401.1L212.7 401.2L213.3 401.5L214 401.7L214.7 401.9L215.3 402.2L216 402.3L216.7 402.5L217.3 402.6L218 402.6L218.7 402.6L219.3 402.5L220 402.4L220.7 402.2L221.3 402L222 401.8L222.7 401.6L223.3 401.4L224 401.2L224.7 401.1L225.3 401L226 401L226.7 401L227.3 401.1L228 401.2L228.7 401.4L229.3 401.6L230 401.8L230.7 402L231.3 402.2L232 402.4L232.7 402.5L233.3 402.6L234 402.6L234.7 402.6L235.3 402.5L236 402.3L236.7 402.2L237.3 401.9L238 401.7L238.7 401.5L239.3 401.2L240 401.1L240.7 400.9L241.3 400.8L242 400.8L242.7 400.9L243.3 401.4L244 401.9L244.7 402.4L245.3 402.9L246 403L246.6 402.9L247.3 402.7L247.9 402.4L248.6 402.1L249.2 401.8L249.9 401.6L250.5 401.5" fill="none" stroke="#111158" stroke-width="1.7" stroke-linejoin="round"/>
<path d="M62 401.4L62.6 401.4L63.2 401.4L63.9 401.4L64.5 401.4L65.1 401.4L65.8 401.4L66.4 401.4L67 401.4L67.6 401.4L68.2 401.4L68.9 401.4L69.5 401.4L70.1 401.4L70.8 401.4L71.4 401.4L72 401.4L72.6 401.4L73.2 401.4L73.9 401.4L74.5 401.4L75.1 401.4L75.8 401.4L76.4 401.4L77 401.4L77.6 401.4L78.2 401.4L78.9 401.4L79.5 401.4L80.1 401.4L80.8 401.4L81.4 401.4L82 401.4L82.8 401.3L83.5 401.1L84.2 401L85 400.9L85.7 400.6L86.4 399.7L87.2 398.6L87.9 397.7L88.6 397.4L89.3 398.9L89.9 402L90.6 403.6L91.4 402.8L92.2 401.2L93 400.4L93.8 400.7L94.5 401.3L95.2 401.9L96 402.2L96.7 402.1L97.3 401.9L98 401.6L98.7 401.4L99.3 401.2L100 401.1L100.6 401.1L101.3 401.1L101.9 401.1L102.5 401.1L103.1 401.1L103.8 401.1L104.4 401.1L105 401.1L105.6 401.1L106.3 401.1L106.9 401.1L107.5 401.1L108.2 401.1L108.8 401.1L109.4 401.1L110 401.1L110.7 401.1L111.3 401.1L111.9 401.1L112.5 401.1L113.2 401.1L113.8 401.1L114.4 401.1L115 401.1L115.7 401.1L116.3 401.1L116.9 401.1L117.6 401.1L118.2 401.1L118.8 401.1L119.4 401.1L120.1 401.1L120.7 401.1L121.3 401.1L121.9 401.1L122.6 401.1L123.2 401.1L123.8 401.1L124.5 401.1L125.1 401.1L125.7 401.1L126.3 401.1L127 401.1L127.6 401.1L128.2 401.1L128.8 401.1L129.5 401.1L130.1 401.1L130.7 401.1L131.4 401.1L132 401.1L132.6 401.1L133.2 401.1L133.9 401.1L134.5 401.1L135.1 401.1L135.7 401.1L136.4 401.1L137 401.1L137.6 401.1L138.3 401.1L138.9 401.1L139.5 401.1L140.1 401.1L140.8 401.2L141.4 401.2L142 401.2L142.6 401.2L143.3 401.2L143.9 401.2L144.5 401.2L145.2 401.2L145.8 401.2L146.4 401.2L147 401.2L147.7 401.2L148.3 401.2L148.9 401.2L149.5 401.2L150.2 401.2L150.8 401.2L151.4 401.2L152 401.2L152.7 401.2L153.3 401.2L153.9 401.2L154.6 401.2L155.2 401.2L155.8 401.2L156.4 401.2L157.1 401.2L157.7 401.2L158.3 401.2L158.9 401.2L159.6 401.2L160.2 401.2L160.8 401.2L161.5 401.2L162.1 401.2L162.7 401.2L163.3 401.2L164 401.2L164.6 401.2L165.2 401.2L165.8 401.2L166.5 401.2L167.1 401.2L167.7 401.2L168.4 401.2L169 401.2L169.6 401.2L170.2 401.2L170.9 401.2L171.5 401.2L172.1 401.2L172.7 401.2L173.4 401.2L174 401.2L174.6 401.2L175.2 401.2L175.9 401.3L176.5 401.3L177.1 401.3L177.8 401.3L178.4 401.3L179 401.3L179.6 401.3L180.3 401.3L180.9 401.3L181.5 401.3L182.1 401.3L182.8 401.3L183.4 401.3L184 401.3L184.7 401.3L185.3 401.3L185.9 401.3L186.5 401.3L187.2 401.3L187.8 401.3L188.4 401.3L189 401.3L189.7 401.3L190.3 401.3L190.9 401.3L191.6 401.3L192.2 401.3L192.8 401.3L193.4 401.3L194.1 401.3L194.7 401.3L195.3 401.3L195.9 401.3L196.6 401.3L197.2 401.3L197.8 401.3L198.5 401.3L199.1 401.3L199.7 401.3L200.3 401.3L201 401.3L201.6 401.3L202.2 401.3L202.8 401.3L203.5 401.3L204.1 401.3L204.7 401.3L205.3 401.3L206 401.3L206.6 401.3L207.2 401.3L207.9 401.3L208.5 401.3L209.1 401.3L209.7 401.3L210.4 401.4L211 401.4L211.6 401.4L212.2 401.4L212.9 401.4L213.5 401.4L214.1 401.4L214.8 401.4L215.4 401.4L216 401.4L216.6 401.4L217.3 401.4L217.9 401.4L218.5 401.4L219.1 401.4L219.8 401.4L220.4 401.4L221 401.4L221.7 401.4L222.3 401.4L222.9 401.4L223.5 401.4L224.2 401.4L224.8 401.4L225.4 401.4L226 401.4L226.7 401.4L227.3 401.4L227.9 401.4L228.6 401.4L229.2 401.4L229.8 401.4L230.4 401.4L231.1 401.4L231.7 401.4L232.3 401.4L232.9 401.4L233.6 401.4L234.2 401.4L234.8 401.4L235.5 401.4L236.1 401.4L236.7 401.4L237.3 401.4L238 401.4L238.6 401.4L239.2 401.4L239.8 401.4L240.5 401.4L241.1 401.4L241.7 401.4L242.3 401.4L243 401.4L243.6 401.4L244.2 401.4L244.9 401.4L245.5 401.4L246.1 401.4L246.7 401.4L247.4 401.4L248 401.4L248.6 401.4L249.2 401.4L249.9 401.4L250.5 401.4" fill="none" stroke="#2a7040" stroke-width="1" stroke-dasharray="3 1.3"/>
<rect x="61.6" y="285.2" width="188.9" height="188.9" fill="none" stroke="#1a1a1a" stroke-width="1.6"/>
<path d="M70.5 474.1v2.8M88.5 474.1v4.2M106.5 474.1v2.8M124.5 474.1v4.2M142.5 474.1v2.8M160.5 474.1v4.2M178.4 474.1v2.8M196.4 474.1v4.2M214.4 474.1v2.8M232.4 474.1v4.2M250.4 474.1v2.8M61.6 473.9h-3M61.6 459.4h-4.6M61.6 444.9h-3M61.6 430.4h-4.6M61.6 415.9h-3M61.6 401.4h-4.6M61.6 386.9h-3M61.6 372.4h-4.6M61.6 357.9h-3M61.6 343.4h-4.6M61.6 328.9h-3M61.6 314.4h-4.6M61.6 299.9h-3M61.6 285.4h-4.6" fill="none" stroke="#1a1a1a" stroke-width="1.3"/>
<text x="55.8" y="462.3" font-size="11.2" text-anchor="end" letter-spacing="-0.2">-2</text>
<text x="55.8" y="433.3" font-size="11.2" text-anchor="end" letter-spacing="-0.2">-1</text>
<text x="55.8" y="404.3" font-size="11.2" text-anchor="end" letter-spacing="-0.2">0</text>
<text x="55.8" y="375.3" font-size="11.2" text-anchor="end" letter-spacing="-0.2">1</text>
<text x="55.8" y="346.3" font-size="11.2" text-anchor="end" letter-spacing="-0.2">2</text>
<text x="55.8" y="317.3" font-size="11.2" text-anchor="end" letter-spacing="-0.2">3</text>
<text x="55.8" y="288.3" font-size="11.2" text-anchor="end" letter-spacing="-0.2">4</text>
<text x="88.9" y="489" font-size="11.2" text-anchor="middle">0</text>
<text x="124.9" y="489" font-size="11.2" text-anchor="middle">2</text>
<text x="160.9" y="489" font-size="11.2" text-anchor="middle">4</text>
<text x="196.8" y="489" font-size="11.2" text-anchor="middle">6</text>
<text x="232.8" y="489" font-size="11.2" text-anchor="middle">8</text>
<text x="124.5" y="510.6" font-size="15.5" textLength="59.5">Time (ps)</text>
<text transform="translate(27.9 444.4) rotate(-90)" font-size="16" textLength="132.5">THz Amplitude (a.u.)</text>
<text x="1.2" y="287.8" font-size="20.2">(b)</text>
<text x="175.2" y="302.6" font-size="12.1" class="lg">OHQ-BBS</text>
<path d="M171.4 312.5H193.8" stroke="#111158" stroke-width="1.6"/>
<text x="197" y="316.7" font-size="12.3" class="lg">0.26 mm</text>
<path d="M171.4 326H193.8" stroke="#1212d8" stroke-width="1.6"/>
<text x="197" y="330.2" font-size="12.3" class="lg">0.17 mm</text>
<path d="M171.4 339.8H193.8" stroke="#c83c44" stroke-width="1.6"/>
<text x="197" y="344" font-size="12.3" class="lg">0.08 mm</text>
<text x="179.6" y="363.8" font-size="12.3" class="lg">ZnTe</text>
<path d="M171.4 373.6H193.8" stroke="#2a7040" stroke-width="1.2" stroke-dasharray="3.2 1.3"/>
<text x="197" y="377.6" font-size="12.3" class="lg">1.0 mm</text>
</g>
<g id="panel-c">
<path d="M346.3 397L424.1 360L501.2 322.4" fill="none" stroke="#c8101c" stroke-width="1.4"/>
<circle cx="346.3" cy="397" r="6.7" fill="#df0404"/>
<circle cx="424.1" cy="360" r="6.7" fill="#df0404"/>
<circle cx="501.2" cy="322.4" r="6.7" fill="#df0404"/>
<rect x="329.6" y="283.9" width="188.7" height="189.4" fill="none" stroke="#1a1a1a" stroke-width="1.5"/>
<path d="M329.6 473.3h-4.6M329.6 454.4h-3M329.6 435.4h-4.6M329.6 416.5h-3M329.6 397.5h-4.6M329.6 378.6h-3M329.6 359.6h-4.6M329.6 340.7h-3M329.6 321.7h-4.6M329.6 302.8h-3M329.6 283.9h-4.6M342.3 473.3v3M363.8 473.3v4.6M385.3 473.3v3M406.8 473.3v4.6M428.3 473.3v3M449.8 473.3v4.6M471.3 473.3v3M492.8 473.3v4.6M514.3 473.3v3" fill="none" stroke="#1a1a1a" stroke-width="1.3"/>
<text x="324.2" y="476.2" font-size="11.8" text-anchor="end" letter-spacing="-0.3">0</text>
<text x="324.2" y="438.3" font-size="11.8" text-anchor="end" letter-spacing="-0.3">5</text>
<text x="324.2" y="400.4" font-size="11.8" text-anchor="end" letter-spacing="-0.3">10</text>
<text x="324.2" y="362.5" font-size="11.8" text-anchor="end" letter-spacing="-0.3">15</text>
<text x="324.2" y="324.6" font-size="11.8" text-anchor="end" letter-spacing="-0.3">20</text>
<text x="324.2" y="286.8" font-size="11.8" text-anchor="end" letter-spacing="-0.3">25</text>
<text x="364" y="487.9" font-size="11.5" text-anchor="middle" letter-spacing="-0.5">0.10</text>
<text x="407" y="487.9" font-size="11.5" text-anchor="middle" letter-spacing="-0.5">0.15</text>
<text x="450" y="487.9" font-size="11.5" text-anchor="middle" letter-spacing="-0.5">0.20</text>
<text x="493" y="487.9" font-size="11.5" text-anchor="middle" letter-spacing="-0.5">0.25</text>
<text x="349.3" y="508.8" font-size="16" textLength="151">Crystal Thickness (mm)</text>
<text transform="translate(285.8 438.3) rotate(-90)" font-size="16" textLength="124.5">Peak-to-Peak Ratio</text>
<text transform="translate(305.2 434.8) rotate(-90)" font-size="15.5" textLength="113">(OHQ-BBS/ZnTe)</text>
<text x="270.4" y="282.6" font-size="20.2">(c)</text>
</g>
</svg>
</body>
</html>
